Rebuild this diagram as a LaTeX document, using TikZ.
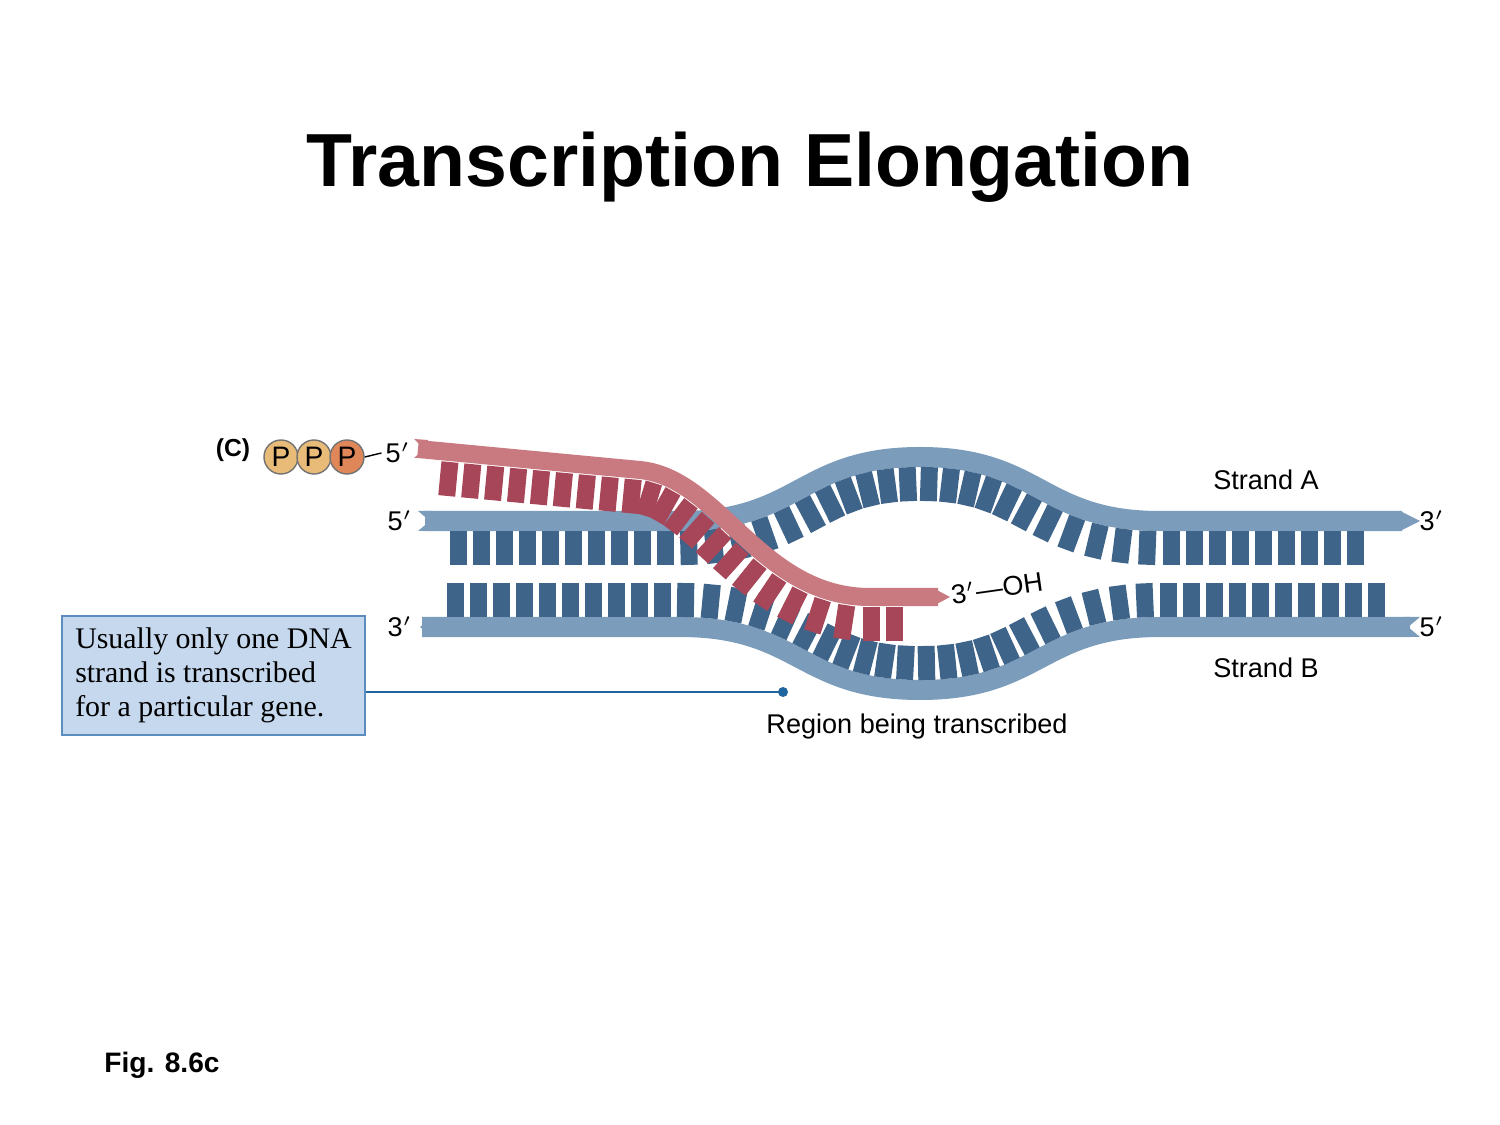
\documentclass[tikz,border=0pt]{standalone}
\usepackage{fontspec}
\setmainfont{Liberation Sans}
\newfontfamily\serif{Liberation Serif}
\usetikzlibrary{decorations.markings}
\definecolor{band}{HTML}{7B9CBB}
\definecolor{rung}{HTML}{3F6489}
\definecolor{rband}{HTML}{C97A80}
\definecolor{rrung}{HTML}{A84659}
\definecolor{boxf}{HTML}{C5D8EE}
\definecolor{boxd}{HTML}{5B8DBF}
\definecolor{pinc}{HTML}{2064A0}
\definecolor{pa}{HTML}{E8BB78}
\definecolor{pb}{HTML}{E0875A}
\tikzset{
 bb/.style={line width=0.2cm,draw=band},
 rb/.style={line width=0.18cm,draw=rband},
 rungsdown/.style={postaction={decorate,decoration={markings,
   mark=between positions 0.33cm and -0.3cm step 0.23cm with {\fill[#1] (-8.5,10) rectangle (8.5,44);}}}},
 rungsup/.style={postaction={decorate,decoration={markings,
   mark=between positions 0.33cm and -0.33cm step 0.23cm with {\fill[#1] (-8.5,-10) rectangle (8.5,-44);}}}},
 lab/.style={font=\fontsize{7.7}{9}\selectfont},
 pcirc/.style={circle,draw=black!55,fill=#1,minimum size=0.34cm,inner sep=0pt,font=\fontsize{8}{9}\selectfont},
}
\begin{document}
\begin{tikzpicture}[x=0.01cm,y=-0.01cm]
\useasboundingbox (0,0) rectangle (1500,1125);
\node[font=\bfseries\fontsize{21.4}{24}\selectfont] (title) at (750,167) {Transcription Elongation};
% strand A
\draw[bb,rungsdown=rung] (425,521) -- (680,521) .. controls (800,521) and (800,457) .. (920,457) .. controls (1040,457) and (1040,521) .. (1160,521) -- (1402,521);
\fill[band] (418,511) -- (432,511) -- (432,531) -- (418,531) -- (430,521) -- cycle;
\fill[band] (1400,511) -- (1420,521) -- (1400,531) -- cycle;
% strand B
\draw[bb,rungsup=rung] (422,627) -- (680,627) .. controls (800,627) and (800,690) .. (920,690) .. controls (1040,690) and (1040,627) .. (1160,627) -- (1410,627);
\fill[band] (432,617) -- (420,627) -- (432,637) -- cycle;
\fill[band] (1405,617) -- (1420,617) -- (1408,627) -- (1420,637) -- (1405,637) -- cycle;
% RNA
\draw[rb,rungsdown=rrung] (418,449) -- (640,470) .. controls (720,478) and (760,597) .. (870,597) -- (938,597);
\fill[rband] (933,588) -- (950,597) -- (933,606) -- cycle;
\fill[rband] (414,439) -- (428,440) -- (427,458) -- (414,458) -- (424,449) -- cycle;
% phosphates
\node[pcirc=pa] (p1) at (281,457) {P};
\node[pcirc=pa] (p2) at (314,457) {P};
\node[pcirc=pb] (p3) at (347,457) {P};
\node[font=\fontsize{7.7}{9}\selectfont,inner xsep=1pt] (r5) at (398,453) {5$'$};
\draw (p3.east) -- (r5.west);
\node[font=\bfseries\fontsize{7}{8}\selectfont] (c) at (233,450) {(C)};
\node[font=\fontsize{7.7}{9}\selectfont] (a5) at (400,521) {5$'$};
\node[font=\fontsize{7.7}{9}\selectfont] (b3) at (400,627) {3$'$};
\node[font=\fontsize{7.7}{9}\selectfont] (a3) at (1432,521) {3$'$};
\node[font=\fontsize{7.7}{9}\selectfont] (b5) at (1432,627) {5$'$};
\node[lab] (sa) at (1266,480) {Strand A};
\node[lab] (sb) at (1266,668) {Strand B};
\node[lab,rotate=8] (oh) at (997,588) {3$'$---OH};
\node[lab] (reg) at (917,727) {Region being transcribed};
% box
\node[draw=boxd,fill=boxf,line width=0.6pt,minimum width=3.03cm,minimum height=1.15cm,align=left,inner xsep=2pt,font=\serif\fontsize{8.5}{9.6}\selectfont] (box) at (213.5,675.5) {Usually only one DNA\\strand is transcribed\\for a particular gene.};
\coordinate (pt) at (783,692);
\draw[draw=pinc,line width=0.8pt] (box.east |- pt) -- (pt);
\fill[pinc] (pt) circle (5);
\node[font=\bfseries\fontsize{8}{9}\selectfont] (fig) at (162,1065) {Fig. 8.6c};
\end{tikzpicture}
\end{document}
